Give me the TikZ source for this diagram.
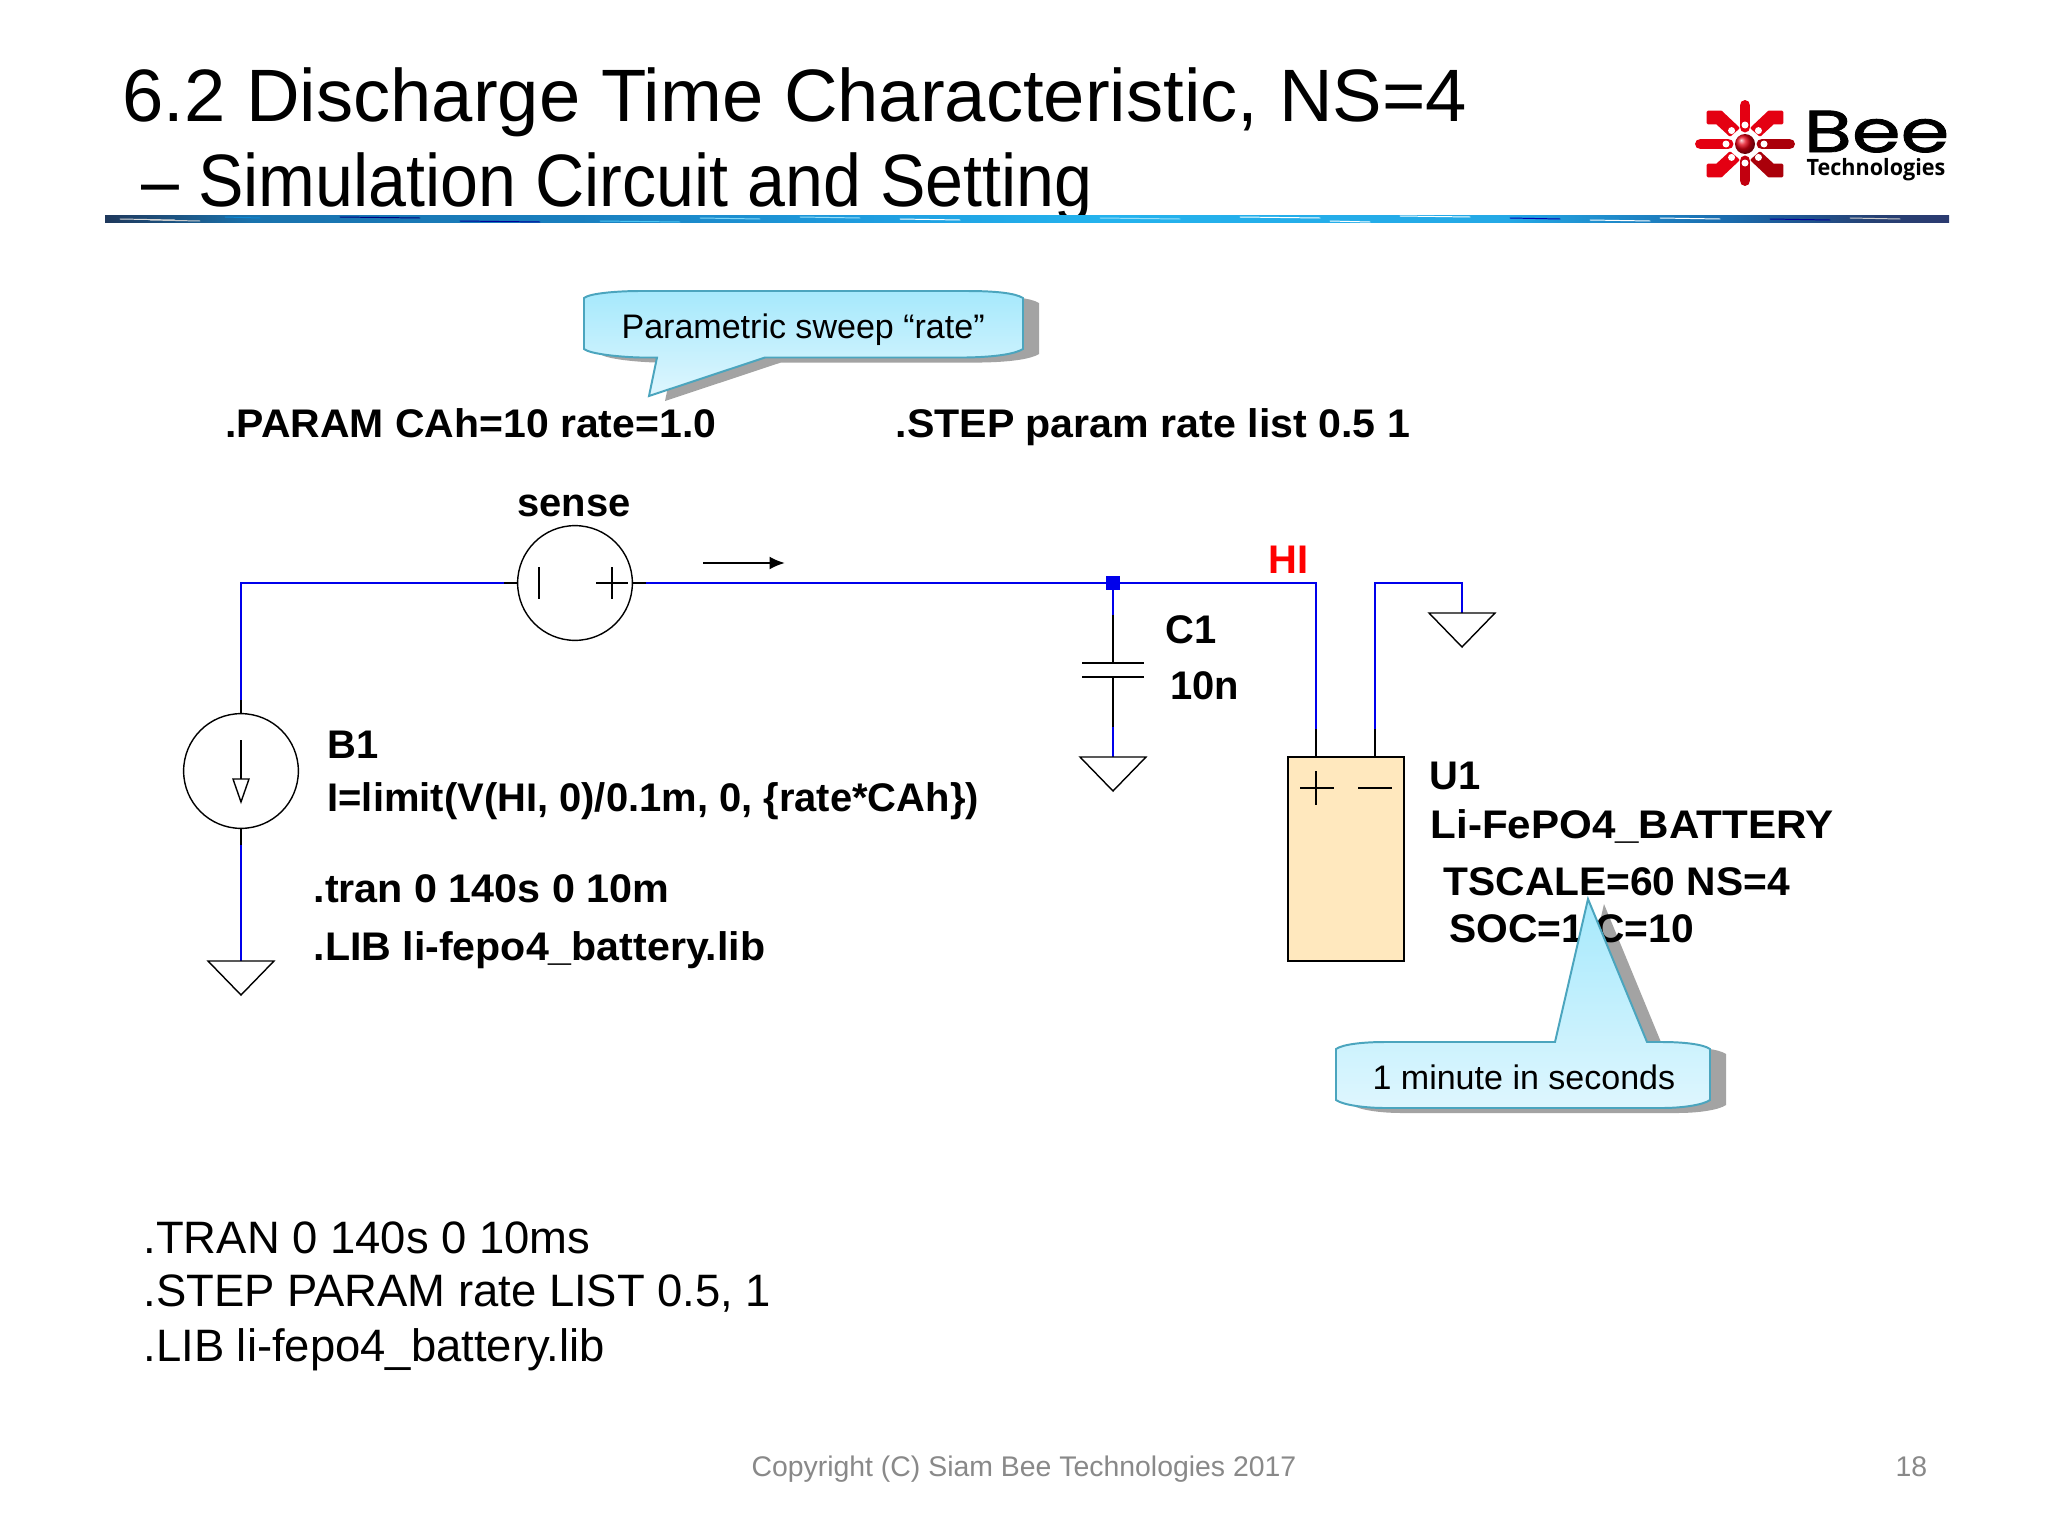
\documentclass[tikz,border=0pt]{standalone}
\usepackage{fontspec}
\setmainfont{Liberation Sans}
\newfontfamily\logofont{Poppins}[FakeBold=1.3]
\newfontfamily\logotech{Open Sans}
\usetikzlibrary{arrows.meta}
\newcommand{\szpt}[1]{\fontsize{#1}{#1}\selectfont}
\definecolor{wire}{RGB}{0,0,235}
\definecolor{balloonline}{RGB}{75,165,190}
\definecolor{balloontop}{RGB}{166,233,252}
\definecolor{balloonbot}{RGB}{222,246,254}
\definecolor{battfill}{RGB}{255,232,190}
\definecolor{logored}{RGB}{228,0,18}
\definecolor{logodark}{RGB}{170,0,10}
\definecolor{footgray}{RGB}{137,137,137}
\pgfdeclarehorizontalshading{titlebar}{100bp}{
 rgb(0bp)=(0.12,0.22,0.36);
 rgb(25bp)=(0.12,0.22,0.36);
 rgb(29bp)=(0.10,0.45,0.68);
 rgb(38bp)=(0.10,0.50,0.75);
 rgb(46bp)=(0.12,0.62,0.88);
 rgb(52bp)=(0.14,0.70,0.93);
 rgb(63bp)=(0.14,0.66,0.90);
 rgb(69bp)=(0.10,0.42,0.68);
 rgb(73bp)=(0.15,0.25,0.45);
 rgb(75bp)=(0.17,0.23,0.44);
 rgb(100bp)=(0.17,0.23,0.44)}
\tikzset{
 titletext/.style={anchor=base west,inner sep=0pt,font=\szpt{26.4}},
 sch/.style={anchor=base west,inner sep=0pt,font=\bfseries\szpt{14.2}},
 plain/.style={anchor=base west,inner sep=0pt,font=\szpt{16.15}},
 foot/.style={anchor=base west,inner sep=0pt,text=footgray,font=\szpt{10.1}},
 balloontext/.style={anchor=base west,inner sep=0pt,font=\szpt{12.1}},
 wireline/.style={draw=wire,line width=1pt},
 stub/.style={draw=black,line width=0.75pt},
 thinpart/.style={draw=black,line width=0.5pt},
 srcc/.style={circle,draw=black,line width=0.5pt,minimum size=40.8pt,inner sep=0pt},
 balloon/.style={draw=balloonline,line width=0.7pt,top color=balloontop,bottom color=balloonbot,
   preaction={fill=black,fill opacity=0.36,draw=none,transform canvas={shift={(16,5)}}}},
 gnd/.pic={\draw[thinpart] (-33,0) -- (33,0) -- (0,34) -- cycle;},
 logoarm/.style={line width=3.9pt,line cap=round},
 logodiag/.style={line width=1pt,line join=round},
 logohole/.style={fill=white},
 streak/.style={line width=0.35pt,line cap=round},
}
\begin{document}
\begin{tikzpicture}[x=0.0125cm,y=-0.0125cm]
\fill[white] (0,0) rectangle (2048,1536);
\useasboundingbox (0,0) rectangle (2048,1536);

% title
\node[titletext] (t1) at (122,121) {6.2 Discharge Time Characteristic, NS=4};
\node[titletext,xscale=0.918] (t2) at (141,206) {– Simulation Circuit and Setting};
\shade[shading=titlebar] (105,215.5) rectangle (1949,222);
\begin{scope}
 \clip (105,215.5) rectangle (1949,222);
 \foreach \xa/\xb/\yy/\cc in {120/175/219/white!70!gray,150/200/220/white!60!gray,225/260/217/cyan!70!blue,340/420/217/blue!50!black,460/540/221/blue!60!black,
   600/680/221/cyan!70,700/760/218/cyan!50,800/860/217/cyan!40,900/960/219/white,1100/1180/218/cyan!40,1240/1320/217/white,1330/1370/221/white,1400/1470/216/white,
   1510/1560/218/blue!70!black,1590/1650/220/white,1660/1720/218/white,1770/1830/219/blue!60!black,1850/1900/218/white!60!gray}
  \draw[streak,\cc] (\xa,\yy) -- (\xb,\yy+1);
\end{scope}

% logo
\begin{scope}[shift={(1745,144)}]
 \filldraw[logodiag,logored] (-37,-32) -- (-24,-32) -- (-7,-16) -- (-15,-9) -- (-28,-21) -- (-37,-21) -- cycle;
 \filldraw[logodiag,logored] (37,-32) -- (24,-32) -- (7,-16) -- (15,-9) -- (28,-21) -- (37,-21) -- cycle;
 \filldraw[logodiag,logored] (-37,32) -- (-24,32) -- (-7,16) -- (-15,9) -- (-28,21) -- (-37,21) -- cycle;
 \filldraw[logodiag,logodark] (37,32) -- (24,32) -- (7,16) -- (15,9) -- (28,21) -- (37,21) -- cycle;
 \draw[logoarm,logored] (0,-38.5) -- (0,-17);
 \draw[logoarm,logored!85!black] (0,17) -- (0,36.5);
 \draw[logoarm,logored] (-44.5,0) -- (-17,0);
 \draw[logoarm,logodark] (17,0) -- (44.5,0);
 \foreach \a in {0,45,...,315} \fill[logohole] (\a:19) circle (3.5);
 \shade[ball color=logored] (0,0) circle (10);
\end{scope}
\node[anchor=base west,inner sep=0pt,text depth=0pt,xscale=1.33,font=\logofont\szpt{21}] (logobee) at (1803,152) {Bee};
\node[anchor=base west,inner sep=0pt,text height=5.5pt,xscale=0.96,font=\logotech\bfseries\szpt{8}] (logotech) at (1806,175) {Technologies};

% schematic texts
\node[sch,xscale=1.025] (param) at (225,437) {.PARAM CAh=10 rate=1.0};
\node[sch,xscale=1.03] (steplbl) at (895,437) {.STEP param rate list 0.5 1};
\node[sch,anchor=base] (senselbl) at (574,516) {sense};
\node[sch,text=red] (hilbl) at (1268,573) {HI};
\node[sch] (b1lbl) at (327,758) {B1};
\node[sch] (ilbl) at (327,811) {I=limit(V(HI, 0)/0.1m, 0, \{rate*CAh\})};
\node[sch,xscale=1.034] (tranlbl) at (313,902) {.tran 0 140s 0 10m};
\node[sch,xscale=1.03] (liblbl) at (313,960) {.LIB li-fepo4\_battery.lib};
\node[sch] (c1lbl) at (1165,643) {C1};
\node[sch] (c1val) at (1170,699) {10n};
\node[sch] (u1lbl) at (1429,789) {U1};
\node[sch,xscale=1.055] (u1name) at (1430,838) {Li-FePO4\_BATTERY};
\node[sch,xscale=1.02] (u1p1) at (1443,895) {TSCALE=60 NS=4};
\node[sch,xscale=1.02] (u1p2) at (1449,942) {SOC=1 C=10};

% parts
\node[srcc] (sense) at (575,583) {};
\node[srcc] (b1) at (241,771) {};
\node[draw=black,line width=0.6pt,fill=battfill,minimum width=41.3pt,minimum height=72.5pt,inner sep=0pt] (batt) at (1346,859) {};
\coordinate (gl) at (241,961);
\coordinate (gc) at (1113,757);
\coordinate (gu) at (1462,613);
\coordinate (senseL) at (504,583);
\coordinate (senseR) at (646,583);
\coordinate (b1T) at (241,700);
\coordinate (b1B) at (241,845);
\coordinate (hiTop) at (1316,583);
\coordinate (hiLow) at (1316,729);
\coordinate (negTop) at (1375,583);
\coordinate (negLow) at (1375,729);
\coordinate (gndTop) at (1462,583);
\coordinate (capA) at (1113,615);
\coordinate (capB) at (1113,663);
\coordinate (capC) at (1113,677);
\coordinate (capD) at (1113,727);

% wires
\draw[wireline] (b1T) |- (senseL);
\draw[wireline] (b1B) -- (gl);
\draw[wireline] (senseR) -- (hiTop) -- (hiLow);
\draw[wireline] (negLow) -- (negTop) -- (gndTop) -- (gu);
\draw[wireline] (hiTop -| capA) -- (capA);
\draw[wireline] (capD) -- (gc);
\node[fill=wire,minimum size=5.3pt,inner sep=0pt] (junction) at (hiTop -| capA) {};
% stubs
\draw[stub] (sense.west) -- (senseL);
\draw[stub] (sense.east) -- (senseR);
\draw[stub] (b1.north) -- (b1T);
\draw[stub] (b1.south) -- (b1B);
\draw[stub] (hiLow) -- (hiLow |- batt.north);
\draw[stub] (negLow) -- (negLow |- batt.north);
\draw[stub] (capA) -- (capB);
\draw[stub] (capC) -- (capD);
\draw[stub] (1082,663) -- (1144,663);
\draw[stub] (1082,677) -- (1144,677);
% symbols
\pic at (gl) {gnd};
\pic at (gc) {gnd};
\pic at (gu) {gnd};
\draw[stub] (539,567) -- (539,599);
\draw[stub] (596,583) -- (628,583);
\draw[stub] (612,567) -- (612,599);
\draw[stub] (1300,788) -- (1334,788);
\draw[stub] (1316,771) -- (1316,805);
\draw[stub] (1358,788) -- (1392,788);
\draw[thinpart] (241,740) -- (241,779);
\draw[thinpart] (233,779) -- (249,779) -- (241,802) -- cycle;
\coordinate (arrowA) at (703,563);
\coordinate (arrowB) at (785,563);
\draw[stub,-{Latex[length=5.5pt,width=4.6pt]}] (arrowA) -- (arrowB);

% bottom text
\node[plain] (n1) at (143,1253) {.TRAN 0 140s 0 10ms};
\node[plain] (n2) at (143,1306) {.STEP PARAM rate LIST 0.5, 1};
\node[plain] (n3) at (143,1361) {.LIB li-fepo4\_battery.lib};
\node[foot] (copy) at (751,1476) {Copyright (C) Siam Bee Technologies 2017};
\node[foot] (pageno) at (1895,1476) {18};

% balloons
\path[balloon] (584,298) .. controls (590,293) and (620,291) .. (640,291) -- (966,291)
  .. controls (995,291) and (1015,293) .. (1023,298) -- (1023,349)
  .. controls (1015,354) and (995,357) .. (966,357.5) -- (765,357.5) -- (649,396) -- (657,357.5) -- (640,357.5)
  .. controls (620,357) and (590,354) .. (584,349) -- cycle;
\node[balloontext] (b1txt) at (621,338) {Parametric sweep “rate”};
\path[balloon] (1336,1049) .. controls (1343,1044) and (1365,1042) .. (1385,1042) -- (1555,1042) -- (1588,899) -- (1647,1042) -- (1662,1042)
  .. controls (1682,1042) and (1703,1044) .. (1710,1049) -- (1710,1100)
  .. controls (1703,1105) and (1682,1108) .. (1662,1108) -- (1385,1108)
  .. controls (1365,1108) and (1343,1105) .. (1336,1100) -- cycle;
\node[balloontext] (b2txt) at (1372,1089) {1 minute in seconds};
\end{tikzpicture}
\end{document}
